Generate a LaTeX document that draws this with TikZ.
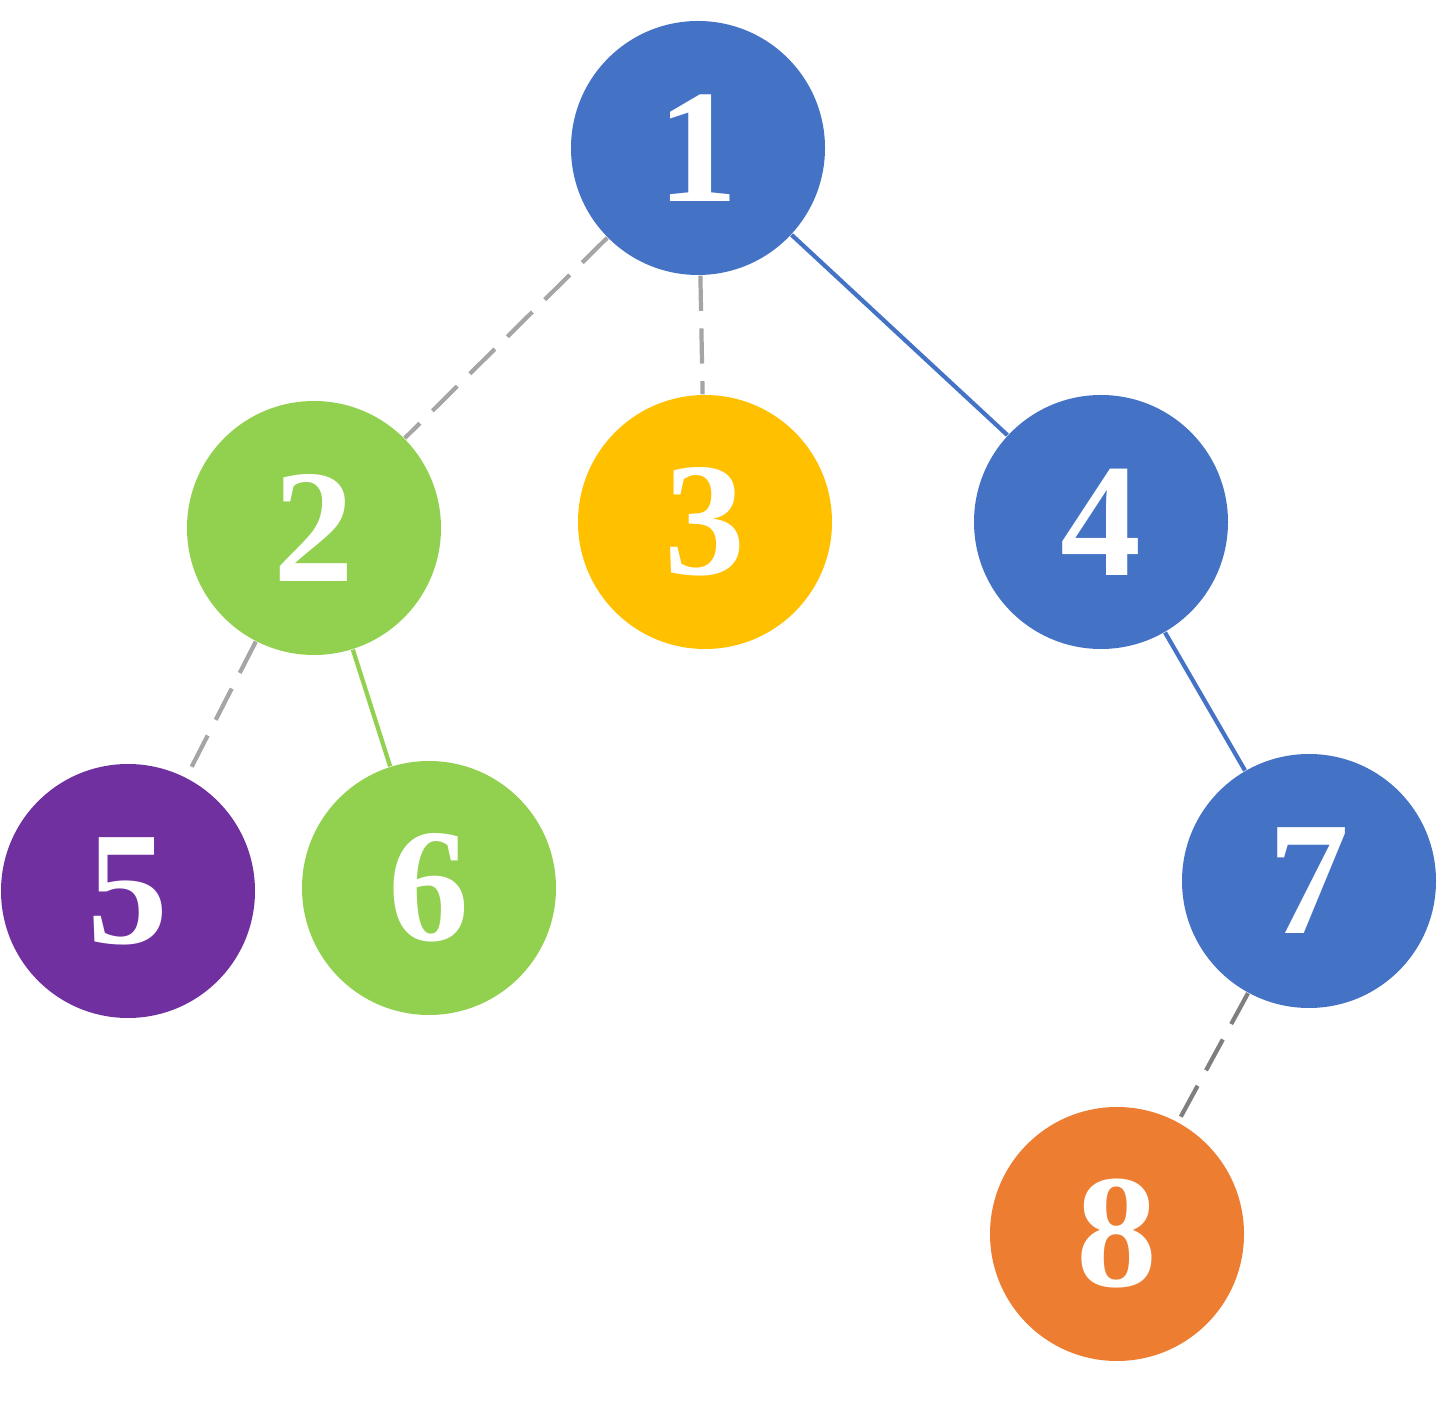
\documentclass[tikz,border=0pt]{standalone}
\usepackage{fontspec}
\setmainfont{Liberation Serif}
\definecolor{nblue}{HTML}{4472C4}
\definecolor{ngreen}{HTML}{92D050}
\definecolor{nyellow}{HTML}{FFC000}
\definecolor{npurple}{HTML}{7030A0}
\definecolor{norange}{HTML}{ED7D31}
\definecolor{lgray}{HTML}{A5A5A5}
\definecolor{dgray}{HTML}{7F7F7F}
\begin{document}
\begin{tikzpicture}[
        tnode/.style = {circle, minimum size=2.54cm, inner sep=0pt, text=white,
            font=\fontsize{46}{46}\selectfont\bfseries}, % tree node
        weak/.style = {lgray, line width=1.2pt, dash pattern=on 10pt off 5pt},
        strong/.style = {line width=1.2pt}
    ]
    \useasboundingbox (0,0) rectangle (14.4,14.08);

    \node[tnode, fill=nblue]   (n1) at (6.98,12.60) {1};

    \node[tnode, fill=ngreen]  (n2) at (3.14,8.80)  {2};
    \node[tnode, fill=nyellow] (n3) at (7.05,8.86)  {3};
    \node[tnode, fill=nblue]   (n4) at (11.01,8.86) {4};

    \node[tnode, fill=npurple] (n5) at (1.28,5.17)  {5};
    \node[tnode, fill=ngreen]  (n6) at (4.29,5.20)  {6};
    \node[tnode, fill=nblue]   (n7) at (13.09,5.27) {7};

    \node[tnode, fill=norange] (n8) at (11.17,1.74) {8};

    \draw[weak] (n1) -- (n2);
    \draw[weak] (n1) -- (n3);
    \draw[strong, nblue] (n1) -- (n4);
    \draw[weak] (n2) -- (n5);
    \draw[strong, ngreen] (n2) -- (n6);
    \draw[strong, nblue] (n4) -- (n7);
    \draw[weak, dgray] (n7) -- (n8);
\end{tikzpicture}
\end{document}
